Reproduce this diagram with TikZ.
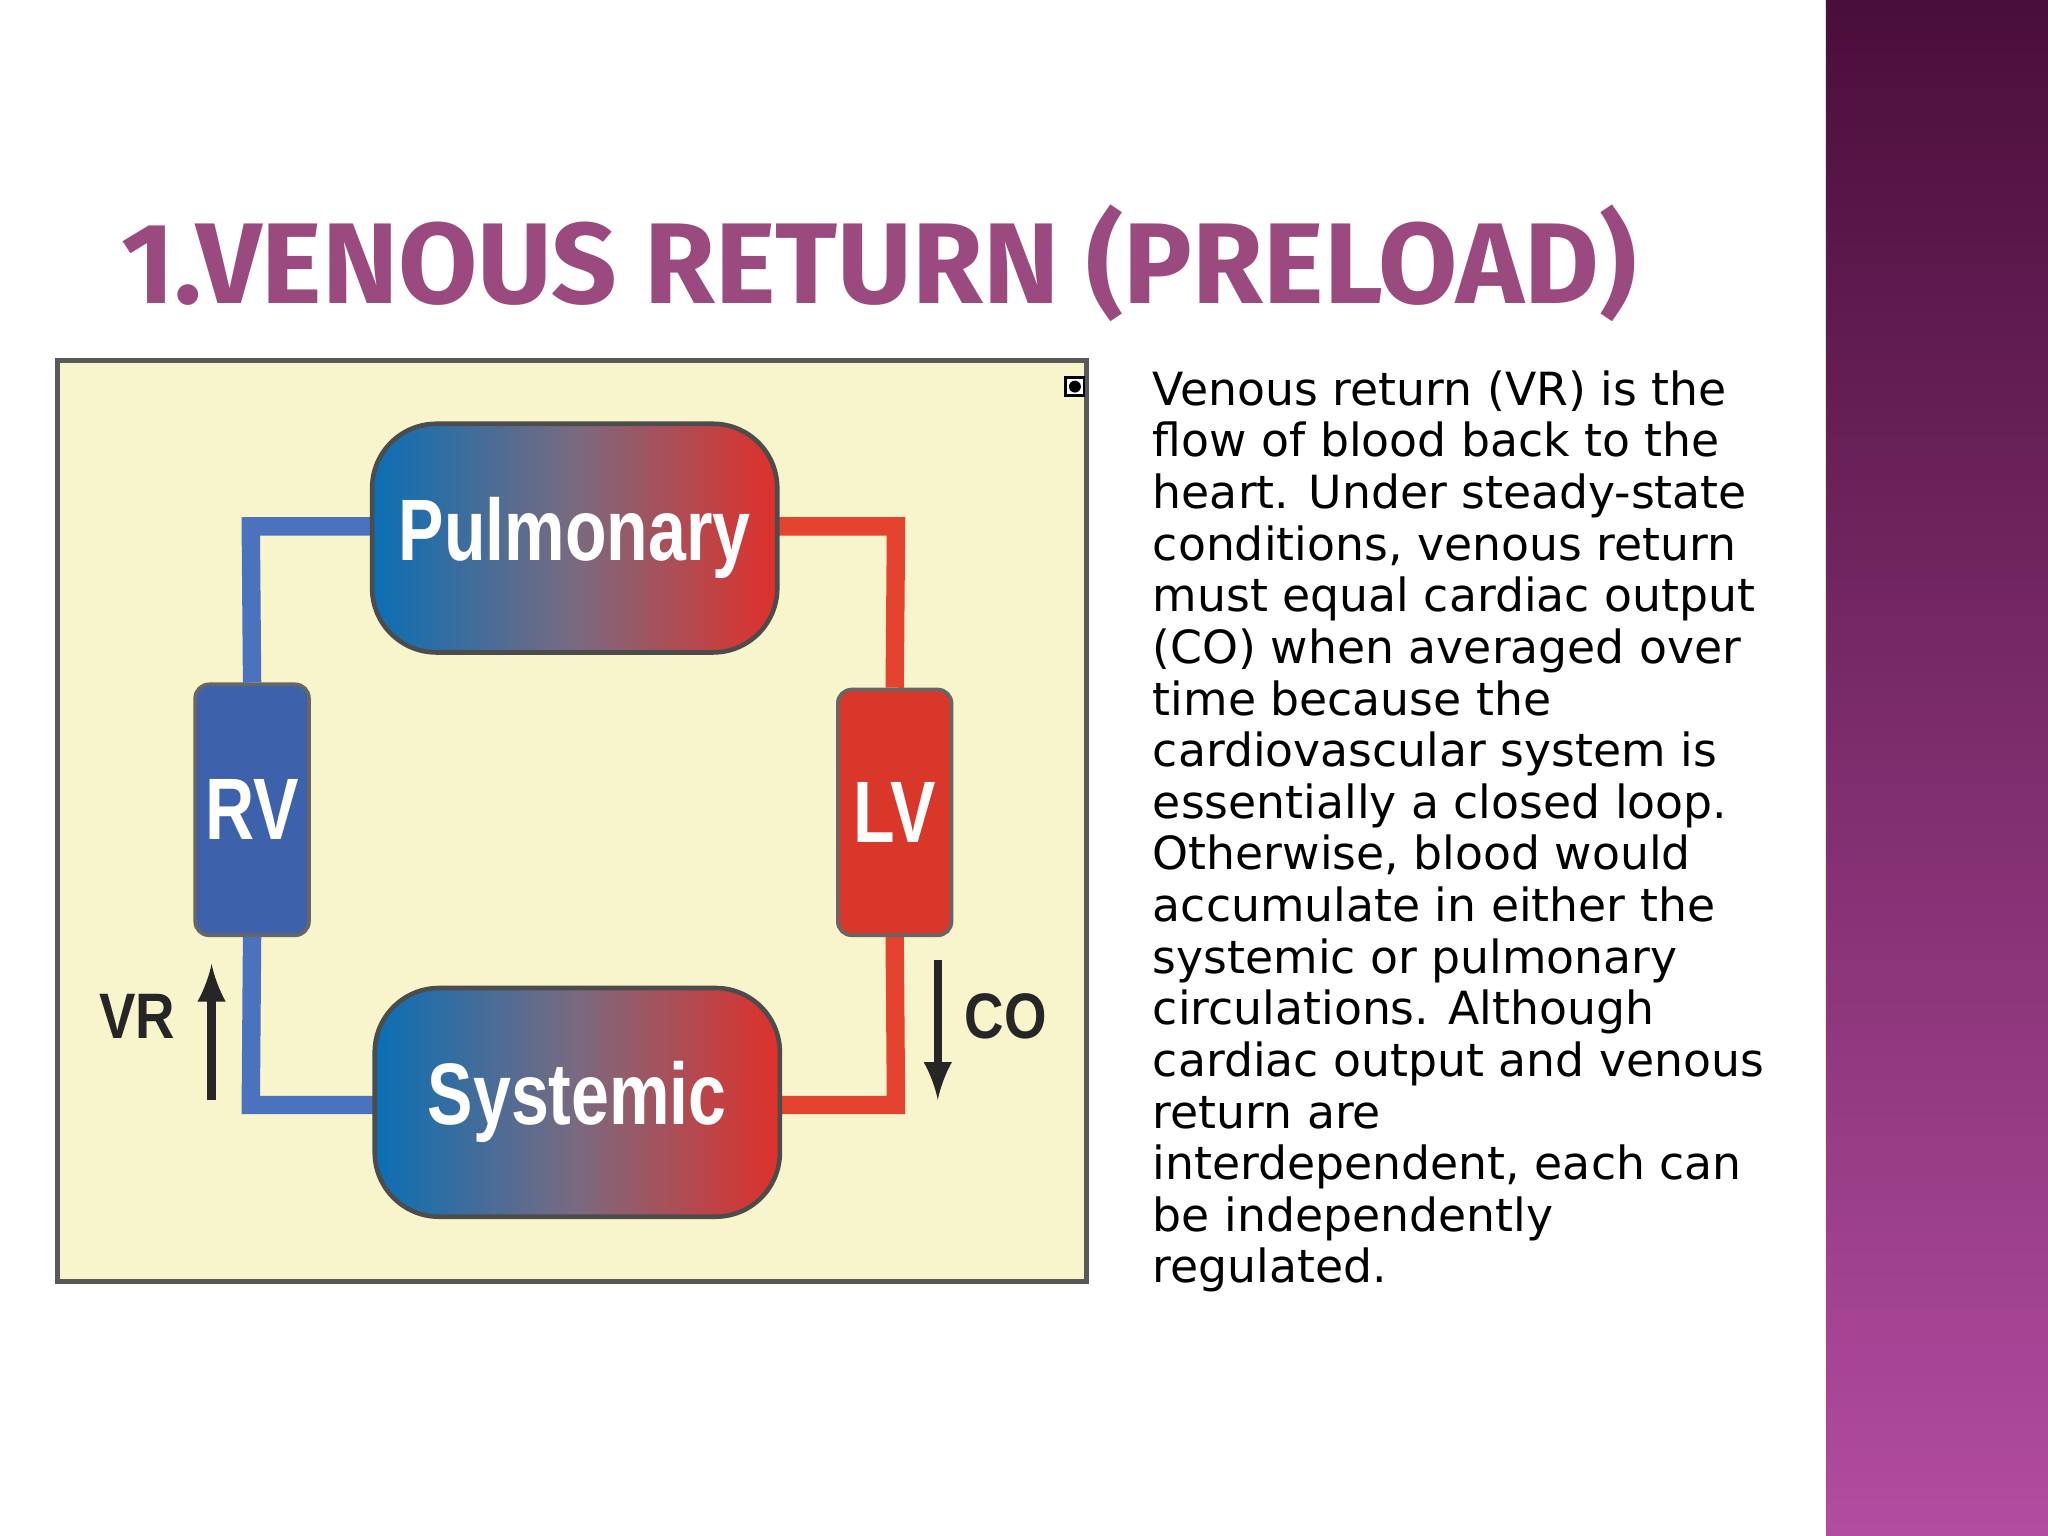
\documentclass[tikz,border=0pt]{standalone}
\usepackage{fontspec}
\setmainfont{DejaVu Sans}
\newfontfamily\titlefont{Fira Sans}
\newfontfamily\diafont{Liberation Sans}
\definecolor{ttl}{HTML}{9A4A7E}
\definecolor{boxbg}{HTML}{F8F5CC}
\definecolor{bl}{HTML}{0A6FB5}
\definecolor{rd}{HTML}{E0302A}
\definecolor{rvc}{HTML}{3D62AB}
\definecolor{lvc}{HTML}{D9372A}
\definecolor{pipeb}{HTML}{4A72BD}
\definecolor{piper}{HTML}{E4432F}
\definecolor{bartop}{HTML}{4A0E3A}
\definecolor{barbot}{HTML}{B24CA0}
\definecolor{orgmid}{HTML}{7A6A80}
\begin{document}
\begin{tikzpicture}[x=0.01cm,y=-0.01cm,
  organ/.style={draw=black!70,line width=1pt,rounded corners=14pt,left color=bl,right color=rd,middle color=orgmid,minimum width=3.1cm,minimum height=1.75cm},
  ventr/.style={draw=black!60,line width=0.8pt,rounded corners=3pt},
  lab/.style={text=white,inner sep=0,font=\diafont\bfseries\fontsize{19}{21}\selectfont,xscale=0.78},
  pipe/.style={line width=4pt},
  side/.style={font=\diafont\bfseries\fontsize{14}{15}\selectfont,text=black!85,xscale=0.85}]
\useasboundingbox (0,0) rectangle (1568,1176);
\fill[white] (0,0) rectangle (1568,1176);
\shade[top color=bartop,bottom color=barbot] (1398,0) rectangle (1568,1176);
\node[anchor=base west,text=ttl,font=\titlefont\bfseries\fontsize{25}{28}\selectfont,inner sep=0] (title) at (92,232) {1.VENOUS RETURN (PRELOAD)};
\draw[fill=boxbg,draw=black!65,line width=1pt] (44,276) rectangle (832,981);
\node[draw=black,line width=0.6pt,minimum size=0.14cm,inner sep=0,fill=white] (icon) at (823,296) {};
\fill (icon.center) circle[radius=1.3pt];
\coordinate (tl) at (192,403); \coordinate (bl2) at (192,846);
\coordinate (tr) at (686,403); \coordinate (br) at (686,846);
\node[ventr,fill=rvc,minimum width=0.87cm,minimum height=1.92cm] (rv) at (193,620) {};
\node[ventr,fill=lvc,minimum width=0.87cm,minimum height=1.88cm] (lv) at (685,622) {};
\coordinate (pulc) at (440,412); \coordinate (sysc) at (442,844);
\draw[pipe,pipeb] (pulc|-tl) -- (tl) -- (rv.north);
\draw[pipe,pipeb] (rv.south) -- (bl2) -- (sysc|-bl2);
\draw[pipe,piper] (pulc|-tr) -- (tr) -- (lv.north);
\draw[pipe,piper] (lv.south) -- (br) -- (sysc|-br);
\node[organ] (pul) at (pulc) {};
\node[organ] (sys) at (sysc) {};
\node[lab] at (pul) {Pulmonary};
\node[lab] at (sys) {Systemic};
\node[lab] at (rv) {RV};
\node[lab] at (lv) {LV};
\node[side] (vr) at (105,778) {VR};
\node[side] (co) at (770,778) {CO};
\coordinate (vra) at (162,842); \coordinate (vrb) at (162,738);
\coordinate (coa) at (718,735); \coordinate (cob) at (718,842);
\draw[-latex,line width=1.8pt,black!85] (vra) -- (vrb);
\draw[-latex,line width=1.8pt,black!85] (coa) -- (cob);
\node[anchor=north west,inner sep=0,align=left,font=\fontsize{9.95}{11.24}\selectfont] (txt) at (882,283) {Venous return (VR) is the\\flow of blood back to the\\heart. Under steady-state\\conditions, venous return\\must equal cardiac output\\(CO) when averaged over\\time because the\\cardiovascular system is\\essentially a closed loop.\\Otherwise, blood would\\accumulate in either the\\systemic or pulmonary\\circulations. Although\\cardiac output and venous\\return are\\interdependent, each can\\be independently\\regulated.};
\end{tikzpicture}
\end{document}
